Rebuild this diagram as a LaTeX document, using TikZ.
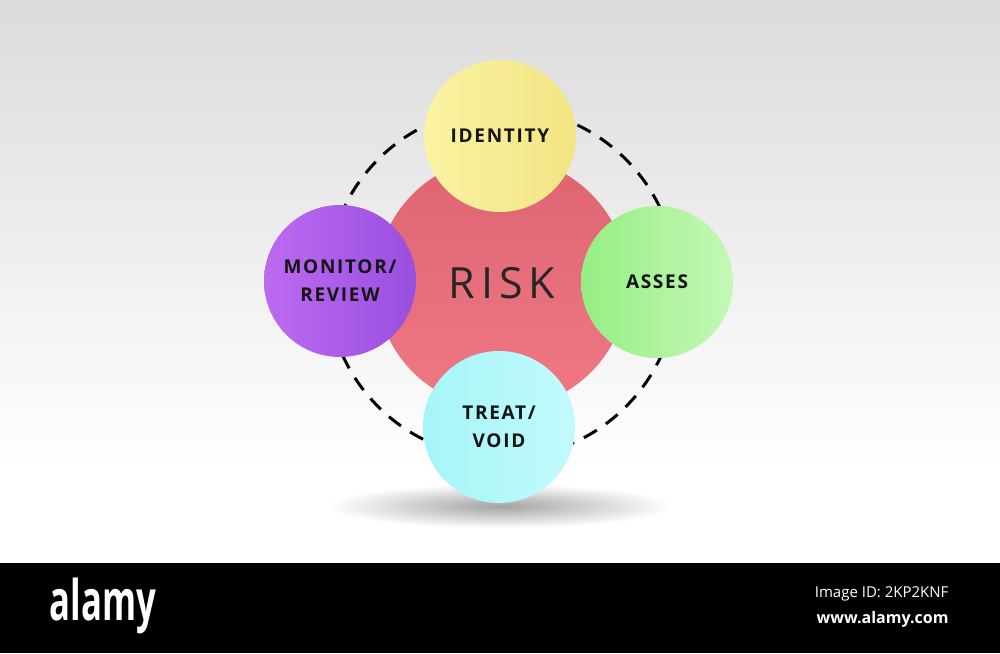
\documentclass[tikz,border=0pt]{standalone}
\usepackage{fontspec}
\usetikzlibrary{calc}
\usetikzlibrary{positioning}
\newfontfamily\labelfont[LetterSpace=9]{Open Sans}
\newfontfamily\riskfont[LetterSpace=14]{Open Sans}
\newfontfamily\brandfont[FakeStretch=0.62]{Open Sans}
\newfontfamily\idfont{Open Sans}
\definecolor{riskred}{HTML}{F07884}
\definecolor{riskdark}{HTML}{DE6472}
\definecolor{idylw}{HTML}{FBF3A2}
\definecolor{idylwdk}{HTML}{F3E483}
\definecolor{asgrn}{HTML}{96EE84}
\definecolor{asgrnlt}{HTML}{C4F8B6}
\definecolor{monpur}{HTML}{BC6AF0}
\definecolor{monpurdk}{HTML}{9A4FE0}
\definecolor{trcyan}{HTML}{A6F5F8}
\definecolor{trcyanlt}{HTML}{C2FAFC}
\definecolor{labeltext}{HTML}{141414}
\tikzset{
  stage/.style={circle, minimum size=152pt, inner sep=0pt, align=center,
    font=\labelfont\bfseries\fontsize{19}{28}\selectfont, text=labeltext},
  ring/.style={black, line width=3pt, dash pattern=on 15pt off 11pt}
}

\begin{document}
\begin{tikzpicture}[x=1pt, y=-1pt]
\useasboundingbox (0,0) rectangle (1000,653);
% background
\shade[top color=black!14, bottom color=white] (0,0) rectangle (1000,470);
\fill[white] (0,470) rectangle (1000,563);
\fill[black] (0,563) rectangle (1000,653);

% floor shadow
\shade[inner color=black!36, outer color=white] (500,506) ellipse [x radius=172pt, y radius=22pt];

% centre and ring
\node[circle, minimum size=252pt, inner sep=0pt, top color=riskdark, bottom color=riskred,
  font=\riskfont\fontsize{43}{43}\selectfont, text=black!85] (risk) at (502,283) {RISK};
\draw[ring] (risk.center) circle [radius=175pt];

% stages
\node[stage, left color=idylw, right color=idylwdk] (identity) at (500,136) {IDENTITY};
\node[stage, left color=asgrn, right color=asgrnlt] (asses) at (657,282) {ASSES};
\node[stage, left color=monpur, right color=monpurdk] (monitor) at (340,281) {MONITOR/\\REVIEW};
\node[stage, left color=trcyan, right color=trcyanlt] (treat) at (499,427) {TREAT/\\VOID};

% footer
\node[anchor=west, text=white, font=\brandfont\bfseries\fontsize{56}{56}\selectfont] (brand) at (46,606) {alamy};
\node[anchor=east, text=white, font=\idfont\fontsize{15}{15}\selectfont] (imgid) at (952,594) {Image ID: 2KP2KNF};
\node[anchor=east, text=white, font=\idfont\bfseries\fontsize{16}{16}\selectfont] (site) at (952,619) {www.alamy.com};
\end{tikzpicture}
\end{document}
